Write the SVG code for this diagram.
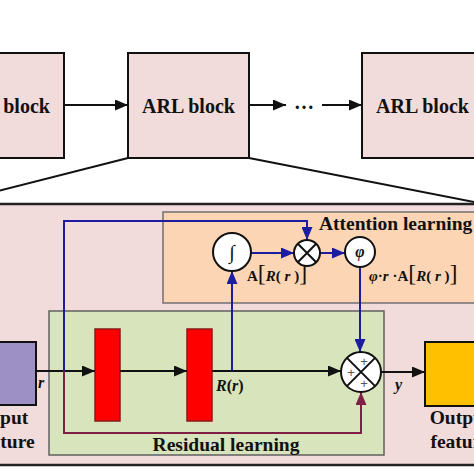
<svg xmlns="http://www.w3.org/2000/svg" width="474" height="474" viewBox="0 0 474 474">
<defs>
<style>
.t{font-family:"Liberation Serif","Times New Roman",serif;font-weight:bold;fill:#111}
.blk{fill:#f2dcdb;stroke:#111;stroke-width:2}
.k{stroke:#111;stroke-width:2;fill:none}
.b{stroke:#1c1ca0;stroke-width:2;fill:none}
.m{stroke:#7f1f45;stroke-width:2;fill:none}
.red{fill:#ff0000;stroke:#8b1a1a;stroke-width:1.5}
.op{fill:#fff;stroke:#111;stroke-width:2}
.it{font-style:italic}
</style>
<marker id="ak" markerUnits="userSpaceOnUse" markerWidth="13" markerHeight="11" refX="13" refY="5.5" orient="auto"><path d="M0,0 L13,5.5 L0,11 z" fill="#111"/></marker>
<marker id="ab" markerUnits="userSpaceOnUse" markerWidth="13" markerHeight="11" refX="13" refY="5.5" orient="auto"><path d="M0,0 L13,5.5 L0,11 z" fill="#1c1ca0"/></marker>
<marker id="am" markerUnits="userSpaceOnUse" markerWidth="13" markerHeight="11" refX="13" refY="5.5" orient="auto"><path d="M0,0 L13,5.5 L0,11 z" fill="#7f1f45"/></marker>
</defs>
<rect width="474" height="474" fill="#fff"/>

<!-- top row -->
<g id="block-left"><rect class="blk" x="-57" y="53" width="121" height="105"/><text class="t" x="3.5" y="113" font-size="20" text-anchor="middle">ARL block</text></g>
<g id="block-mid"><rect class="blk" x="128" y="53" width="121" height="105"/><text class="t" x="188.5" y="113" font-size="20" text-anchor="middle">ARL block</text></g>
<g id="block-right"><rect class="blk" x="362" y="53" width="121" height="105"/><text class="t" x="422.5" y="113" font-size="20" text-anchor="middle">ARL block</text></g>
<g id="dots"><text class="t" x="304" y="109" font-size="20" text-anchor="middle">…</text></g>

<!-- zoom lines -->
<g id="zoom-lines">
<line class="k" x1="128" y1="158" x2="-10" y2="193"/>
<line class="k" x1="249" y1="158" x2="484" y2="204"/>
</g>

<!-- big frame -->
<g id="frame"><rect x="-5" y="204" width="484" height="261" fill="#f2dcdb" stroke="#222" stroke-width="2.5"/></g>

<g id="attention-box"><rect x="163" y="212" width="320" height="91" fill="#fcd5b4" stroke="#707070" stroke-width="1.5"/>
<text class="t" x="319" y="230" font-size="19.5">Attention learning</text></g>

<g id="residual-box"><rect x="49" y="311" width="335" height="144" fill="#d7e4bc" stroke="#606060" stroke-width="1.5"/>
<text class="t" x="226" y="451" font-size="19.5" text-anchor="middle">Residual learning</text></g>

<g id="input"><rect x="-26" y="342" width="62" height="63" fill="#9d90c4" stroke="#111" stroke-width="2"/>
<text class="t" x="5" y="424" font-size="19.5" text-anchor="middle">Input</text>
<text class="t" x="5" y="448" font-size="19.5" text-anchor="middle">feature</text></g>

<g id="output"><rect x="425" y="342" width="70" height="64" fill="#ffc000" stroke="#111" stroke-width="2"/>
<text class="t" x="460" y="424" font-size="19.5" text-anchor="middle">Output</text>
<text class="t" x="460" y="448" font-size="19.5" text-anchor="middle">feature</text></g>

<g id="conv1"><rect class="red" x="95" y="329" width="25" height="92"/></g>
<g id="conv2"><rect class="red" x="187" y="329" width="25" height="92"/></g>

<!-- connectors -->
<g id="connectors">
<line class="k" x1="64" y1="105" x2="128" y2="105" marker-end="url(#ak)"/>
<line class="k" x1="249" y1="105" x2="286" y2="105" marker-end="url(#ak)"/>
<line class="k" x1="322" y1="105" x2="362" y2="105" marker-end="url(#ak)"/>
<line class="k" x1="36" y1="371" x2="95" y2="371" marker-end="url(#ak)"/>
<line class="k" x1="120" y1="371" x2="187" y2="371" marker-end="url(#ak)"/>
<line class="k" x1="212" y1="371" x2="341" y2="371" marker-end="url(#ak)"/>
<line class="k" x1="381" y1="372" x2="425" y2="372" marker-end="url(#ak)"/>
<path class="b" d="M64,371 V221 H307 V240" marker-end="url(#ab)"/>
<line class="b" x1="232" y1="371" x2="232" y2="271" marker-end="url(#ab)"/>
<line class="b" x1="251" y1="253" x2="294" y2="253" marker-end="url(#ab)"/>
<line class="b" x1="320" y1="253" x2="345" y2="253" marker-end="url(#ab)"/>
<line class="b" x1="360" y1="268" x2="360" y2="352" marker-end="url(#ab)"/>
<path class="m" d="M64,371 V433 H361 V392" marker-end="url(#am)"/>
</g>

<!-- operators -->
<g id="integral"><circle class="op" cx="232" cy="252" r="19"/><text class="t" x="232" y="259" font-size="20" text-anchor="middle">∫</text></g>
<g id="multiply"><circle class="op" cx="307" cy="253" r="13"/><path class="k" d="M297.8,243.8 L316.2,262.2 M316.2,243.8 L297.8,262.2"/></g>
<g id="phi"><circle class="op" cx="360" cy="252" r="15"/><text class="t it" x="360" y="257" font-size="16" text-anchor="middle">φ</text></g>
<g id="sum"><circle class="op" cx="361" cy="372" r="20"/><path class="k" d="M346.9,357.9 L375.1,386.1 M375.1,357.9 L346.9,386.1"/>
<text x="364" y="366" font-family="Liberation Sans,Arial,sans-serif" font-size="13" fill="#555" text-anchor="middle">+</text>
<text x="351" y="377" font-family="Liberation Sans,Arial,sans-serif" font-size="13" fill="#555" text-anchor="middle">+</text>
<text x="364" y="388" font-family="Liberation Sans,Arial,sans-serif" font-size="13" fill="#555" text-anchor="middle">+</text></g>

<!-- labels -->
<g id="labels">
<text class="t it" x="38" y="388" font-size="16">r</text>
<text class="t" x="216" y="391" font-size="16"><tspan class="it">R</tspan>(<tspan class="it">r</tspan>)</text>
<text class="t it" x="395" y="390" font-size="16">y</text>
<text class="t" x="247" y="281" font-size="15">A<tspan font-size="24" font-weight="normal">[</tspan><tspan class="it">R</tspan>( <tspan class="it">r</tspan> )<tspan font-size="24" font-weight="normal">]</tspan></text>
<text class="t" x="369" y="281" font-size="15"><tspan class="it">φ</tspan>·<tspan class="it">r</tspan> ·A<tspan font-size="24" font-weight="normal">[</tspan><tspan class="it">R</tspan>( <tspan class="it">r</tspan> )<tspan font-size="24" font-weight="normal">]</tspan></text>
</g>
</svg>
